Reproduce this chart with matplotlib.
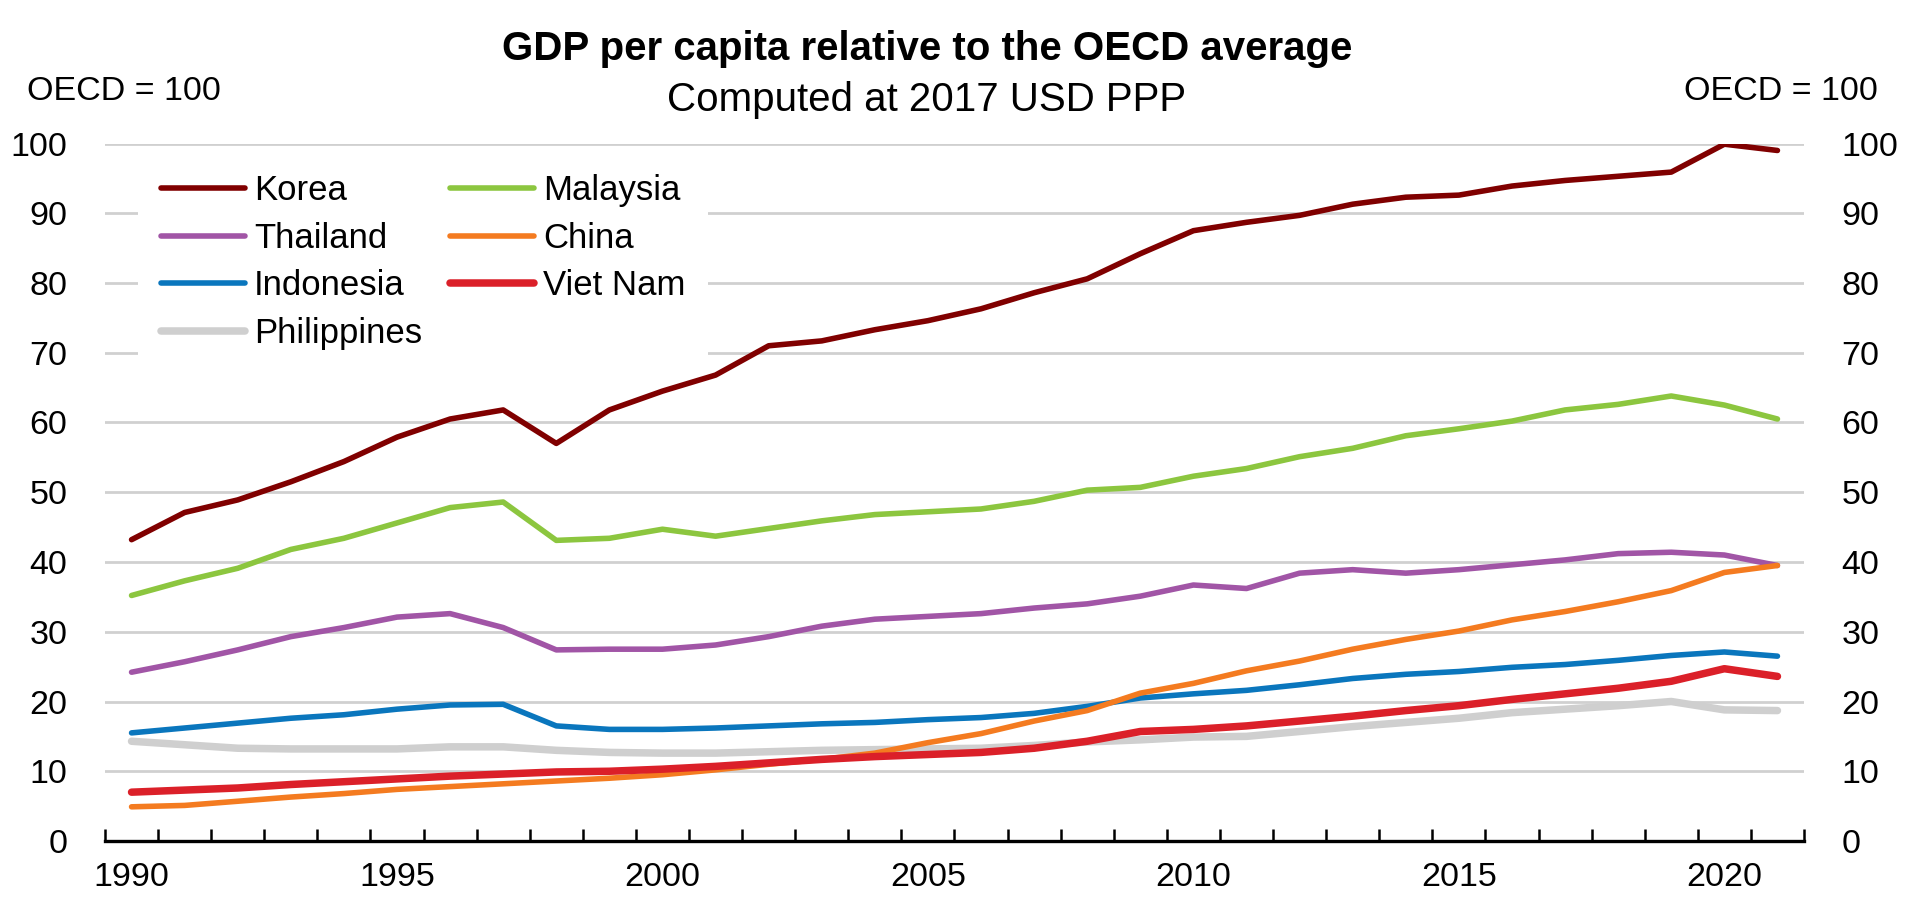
import matplotlib
matplotlib.use("Agg")
import matplotlib.pyplot as plt
import numpy as np

years = list(range(1990, 2022))
korea = [43.2, 47.1, 48.9, 51.5, 54.4, 57.9, 60.5, 61.8, 57.0, 61.8, 64.5, 66.8, 71.0, 71.7, 73.3, 74.6,
         76.3, 78.6, 80.6, 84.2, 87.5, 88.7, 89.7, 91.3, 92.3, 92.6, 93.9, 94.7, 95.3, 95.9, 99.9, 99.0]
thailand = [24.2, 25.7, 27.4, 29.3, 30.6, 32.1, 32.6, 30.6, 27.4, 27.5, 27.5, 28.1, 29.3, 30.8, 31.8, 32.2,
            32.6, 33.4, 34.0, 35.1, 36.7, 36.2, 38.4, 38.9, 38.4, 38.9, 39.6, 40.3, 41.2, 41.4, 41.0, 39.5]
indonesia = [15.5, 16.2, 16.9, 17.6, 18.1, 18.9, 19.5, 19.6, 16.5, 16.0, 16.0, 16.2, 16.5, 16.8, 17.0, 17.4,
             17.7, 18.3, 19.3, 20.5, 21.1, 21.6, 22.4, 23.3, 23.9, 24.3, 24.9, 25.3, 25.9, 26.6, 27.1, 26.5]
philippines = [14.3, 13.8, 13.3, 13.2, 13.2, 13.2, 13.5, 13.5, 13.0, 12.7, 12.6, 12.6, 12.8, 13.0, 13.1, 13.2,
               13.3, 13.7, 14.2, 14.5, 14.9, 15.0, 15.7, 16.4, 17.0, 17.6, 18.4, 18.9, 19.4, 20.0, 18.8, 18.7]
malaysia = [35.2, 37.3, 39.1, 41.8, 43.4, 45.6, 47.8, 48.6, 43.1, 43.4, 44.7, 43.7, 44.8, 45.9, 46.8, 47.2,
            47.6, 48.7, 50.3, 50.7, 52.3, 53.4, 55.1, 56.3, 58.1, 59.1, 60.2, 61.8, 62.6, 63.8, 62.5, 60.5]
china = [4.9, 5.1, 5.7, 6.3, 6.8, 7.4, 7.8, 8.2, 8.6, 9.0, 9.5, 10.2, 11.0, 11.7, 12.6, 14.1,
         15.4, 17.2, 18.7, 21.2, 22.6, 24.4, 25.8, 27.5, 28.9, 30.1, 31.7, 32.9, 34.3, 35.9, 38.5, 39.5]
vietnam = [7.0, 7.3, 7.6, 8.1, 8.5, 8.9, 9.3, 9.6, 9.9, 10.0, 10.3, 10.7, 11.2, 11.7, 12.1, 12.4,
           12.7, 13.3, 14.3, 15.7, 16.0, 16.5, 17.2, 17.9, 18.7, 19.4, 20.3, 21.1, 21.9, 22.9, 24.7, 23.6]

names = ["Korea", "Thailand", "Indonesia", "Philippines", "Malaysia", "China", "Viet Nam"]
series = [korea, thailand, indonesia, philippines, malaysia, china, vietnam]
colors = ["#800000", "#A155A6", "#0A76BD", "#CFCFCF", "#8CC63F", "#F47B20", "#DB2029"]
widths = [4.0, 4.0, 4.0, 5.4, 4.0, 4.0, 5.4]

yticks = list(range(0, 101, 10))
xlabel_years = [1990, 1995, 2000, 2005, 2010, 2015, 2020]

FONT = ["Liberation Sans", "DejaVu Sans"]
plt.rcParams["font.family"] = FONT
FS_TICK = 24.5
FS_LEG = 25

W, H = 1908, 923
fig = plt.figure(figsize=(W / 100, H / 100), dpi=100)
ax = fig.add_axes([105 / W, 1 - 841 / H, 1699 / W, 697.5 / H])

x = np.arange(len(years))
for name, vals, c, lw in zip(names, series, colors, widths):
    ax.plot(x, vals, color=c, lw=lw, label=name, solid_capstyle="round", solid_joinstyle="round", zorder=3)

ax.set_xlim(-0.5, len(years) - 0.5)
ax.set_ylim(0, 100)
ax.set_yticks(yticks)
ax.yaxis.grid(True, color="#D0D0D0", lw=2.0, zorder=0)
ax.set_axisbelow(True)
ax.tick_params(axis="y", length=0, labelleft=True, labelright=True, pad=27, labelsize=FS_TICK)

ax.set_xticks(np.arange(-0.5, len(years)), minor=False)
ax.set_xticklabels([])
ax.tick_params(axis="x", which="major", direction="in", length=8.7, width=1.8, color="black")
ax.set_xticks([years.index(y) for y in xlabel_years], minor=True)
ax.set_xticklabels([str(y) for y in xlabel_years], minor=True)
ax.tick_params(axis="x", which="minor", length=0, pad=15, labelsize=FS_TICK)

for s in ["top", "left", "right"]:
    ax.spines[s].set_visible(False)
ax.spines["bottom"].set_linewidth(2.4)
ax.spines["bottom"].set_color("black")

leg = ax.legend(ncol=2, loc="upper left", bbox_to_anchor=(33 / 1699, 0.989), fontsize=FS_LEG,
                frameon=True, framealpha=1, facecolor="white", edgecolor="none", fancybox=False,
                handlelength=2.42, handletextpad=0.26, columnspacing=0.8, labelspacing=0.42,
                borderpad=0.66, borderaxespad=0)
leg.set_zorder(4)

fig.text(927 / W, 1 - 60 / H, "GDP per capita relative to the OECD average", ha="center", va="baseline",
         fontsize=29, fontweight="bold")
fig.text(927 / W, 1 - 111 / H, "Computed at 2017 USD PPP", ha="center", va="baseline", fontsize=29)
fig.text(27 / W, 1 - 100 / H, "OECD = 100", ha="left", va="baseline", fontsize=24.5)
fig.text(1878 / W, 1 - 100 / H, "OECD = 100", ha="right", va="baseline", fontsize=24.5)

fig.savefig("out.png", dpi=100)
